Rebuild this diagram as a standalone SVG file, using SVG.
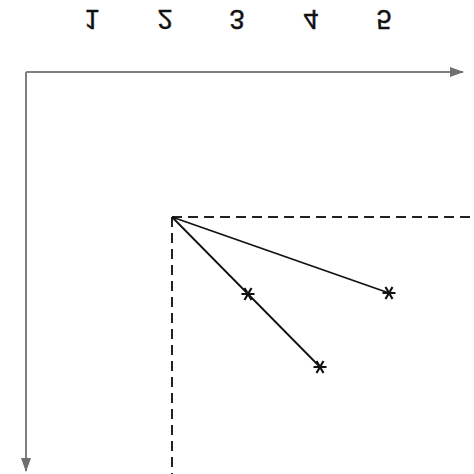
<svg xmlns="http://www.w3.org/2000/svg" width="474" height="474" viewBox="0 0 474 474">
<style>
.num{font-family:"Liberation Sans",Arial,sans-serif;font-size:27px;fill:#111;stroke:#111;stroke-width:0.4;text-anchor:middle}
.axis{stroke:#808080;stroke-width:2;fill:none}
.dash{stroke:#222;stroke-width:2;stroke-dasharray:10 6;fill:none}
.ln{stroke:#111;stroke-width:1.8;fill:none}
.star{stroke:#111;stroke-width:2.2;fill:none}
</style>
<defs>
<marker id="ah" markerWidth="14" markerHeight="10" refX="13" refY="5" orient="auto" markerUnits="userSpaceOnUse">
<path d="M0,0 L14,5 L0,10 Z" fill="#707070"/>
</marker>
<g id="ast">
<path d="M-6.5,0 H6.5 M-3.5,-6 L3.5,6 M-3.5,6 L3.5,-6"/>
</g>
</defs>
<g id="labels">
<text class="num" transform="translate(92,10) scale(1,-1)">1</text>
<text class="num" transform="translate(165,10) scale(1,-1)">2</text>
<text class="num" transform="translate(237,10) scale(1,-1)">3</text>
<text class="num" transform="translate(311,10) scale(1,-1)">4</text>
<text class="num" transform="translate(384,10) scale(1,-1)">5</text>
</g>
<g id="connectors">
<path class="axis" d="M26,72 H463" marker-end="url(#ah)"/>
<path class="axis" d="M26,72 V471" marker-end="url(#ah)"/>
<path class="dash" d="M172,217 H474"/>
<path class="dash" d="M172,217 V474"/>
<path class="ln" d="M172,217 L389,293"/>
<path class="ln" d="M172,217 L320,367"/>
</g>
<g id="markers" class="star">
<use href="#ast" x="248" y="294"/>
<use href="#ast" x="389" y="293"/>
<use href="#ast" x="320" y="367"/>
</g>
</svg>
